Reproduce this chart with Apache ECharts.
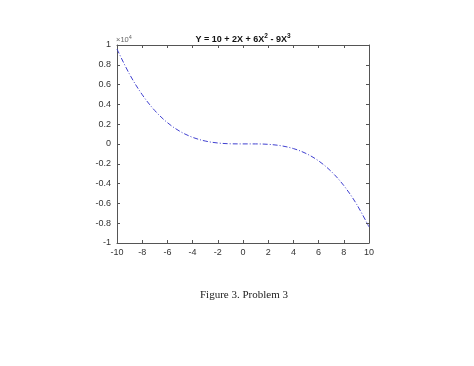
<!DOCTYPE html>
<html>
<head>
<meta charset="utf-8">
<script src="https://cdn.jsdelivr.net/npm/echarts@6/dist/echarts.min.js"></script>
<style>html,body{margin:0;padding:0;background:#fff;}#c{width:474px;height:366px;}</style>
</head>
<body>
<div id="c"></div>
<script>
// Data (X from -10 to 10)
var xValues = [-10, -9, -8, -7, -6, -5, -4, -3, -2, -1, 0, 1, 2, 3, 4, 5, 6, 7, 8, 9, 10];
var yValues = [9590, 7039, 4986, 3377, 2158, 1275, 674, 301, 102, 23, 10, 9, -34, -173, -462, -955, -1706, -2769, -4198, -6047, -8370];
var xTicks = [-10, -8, -6, -4, -2, 0, 2, 4, 6, 8, 10];
var yTickLabels = ['-1', '-0.8', '-0.6', '-0.4', '-0.2', '0', '0.2', '0.4', '0.6', '0.8', '1'];
var titleText = 'Y = 10 + 2X + 6X';
var captionText = 'Figure 3. Problem 3';

var pts = xValues.map(function (x, i) { return [x, yValues[i]]; });
var axisColor = '#555';
var labelColor = '#333';
var chart = echarts.init(document.getElementById('c'), null, {renderer: 'canvas'});

function yFmt(v) {
  var idx = Math.round((v + 10000) / 2000);
  return yTickLabels[idx];
}

var baseX = {
  type: 'value', min: -10, max: 10, interval: 2,
  axisLine: {show: true, onZero: false, lineStyle: {color: axisColor, width: 1}},
  axisTick: {show: true, inside: true, length: 3, lineStyle: {color: axisColor}},
  splitLine: {show: false}
};
var baseY = {
  type: 'value', min: -10000, max: 10000, interval: 2000,
  axisLine: {show: true, onZero: false, lineStyle: {color: axisColor, width: 1}},
  axisTick: {show: true, inside: true, length: 3, lineStyle: {color: axisColor}},
  splitLine: {show: false}
};

chart.setOption({
  backgroundColor: '#fff',
  animation: false,
  grid: {left: 117, right: 105, top: 45, bottom: 123},
  xAxis: [
    Object.assign({}, baseX, {position: 'bottom',
      axisLabel: {show: true, color: labelColor, fontFamily: 'Liberation Sans', fontSize: 9, margin: 5,
        formatter: function (v) { return String(v); }}}),
    Object.assign({}, baseX, {position: 'top', axisLabel: {show: false}})
  ],
  yAxis: [
    Object.assign({}, baseY, {position: 'left',
      axisLabel: {show: true, color: labelColor, fontFamily: 'Liberation Sans', fontSize: 9, margin: 6, formatter: yFmt}}),
    Object.assign({}, baseY, {position: 'right', axisLabel: {show: false}})
  ],
  series: [{
    type: 'line',
    data: pts,
    smooth: 0.35,
    showSymbol: false,
    symbol: 'none',
    lineStyle: {color: '#4040d0', width: 1, type: [5, 2, 1, 2]}
  }],
  graphic: [
    {
      type: 'text', x: 243, y: 33,
      style: {
        text: '{t|' + titleText + '}{s|2}{t| - 9X}{s|3}',
        align: 'center',
        rich: {
          t: {fontFamily: 'Liberation Sans', fontSize: 9, fontWeight: 'bold', fill: '#111', verticalAlign: 'bottom', lineHeight: 11},
          s: {fontFamily: 'Liberation Sans', fontSize: 6.5, fontWeight: 'bold', fill: '#111', verticalAlign: 'top', padding: [0, 0, 5, 0], lineHeight: 11}
        }
      }
    },
    {
      type: 'text', x: 116, y: 35,
      style: {
        text: '{a|\u00d710}{b|4}',
        rich: {
          a: {fontFamily: 'Liberation Sans', fontSize: 7.5, fill: '#666', lineHeight: 10},
          b: {fontFamily: 'Liberation Sans', fontSize: 5.5, fill: '#666', padding: [0, 0, 5, 0], lineHeight: 10}
        }
      }
    },
    {
      type: 'text', x: 244, y: 290,
      style: {text: captionText, align: 'center', fontFamily: 'Liberation Serif', fontSize: 11, fill: '#222'}
    }
  ]
});
</script>
</body>
</html>
